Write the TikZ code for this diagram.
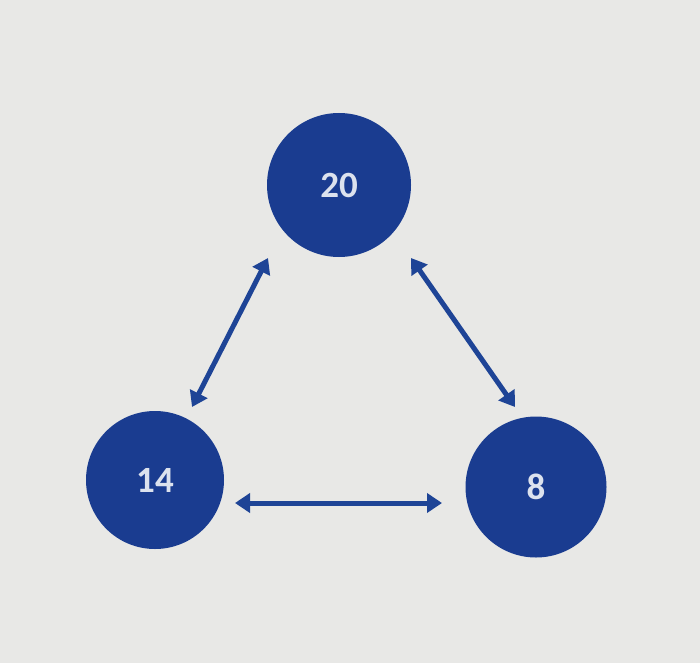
\documentclass[tikz,border=0pt]{standalone}
\usepackage{fontspec}
\setmainfont{Carlito}
\usetikzlibrary{arrows.meta}
\definecolor{bg}{HTML}{E8E8E6}
\definecolor{nodeblue}{HTML}{1A3C90}
\definecolor{arrowblue}{HTML}{1E4496}
\definecolor{numcol}{HTML}{DCE2EE}
\tikzset{
  numnode/.style={circle, fill=nodeblue, draw=none, inner sep=0pt, text=numcol,
    font=\fontsize{37}{42}\selectfont\bfseries},
  link/.style={draw=arrowblue, line width=5pt,
    {Triangle[width=19pt,length=15pt]}-{Triangle[width=19pt,length=15pt]}}
}
\begin{document}
\begin{tikzpicture}[x=1pt,y=-1pt]
\fill[bg] (0,0) rectangle (700,663);
\useasboundingbox (0,0) rectangle (700,663);
\node[numnode, minimum size=144pt] (n20) at (339,185) {20};
\node[numnode, minimum size=138pt] (n14) at (155,480) {14};
\node[numnode, minimum size=141pt] (n8) at (536,487) {8};
\coordinate (a1) at (268,258);
\coordinate (a2) at (192,407);
\coordinate (b1) at (411,258);
\coordinate (b2) at (515,407);
\coordinate (c1) at (235,503);
\coordinate (c2) at (442,503);
\draw[link] (a1) -- (a2);
\draw[link] (b1) -- (b2);
\draw[link] (c1) -- (c2);
\end{tikzpicture}
\end{document}
